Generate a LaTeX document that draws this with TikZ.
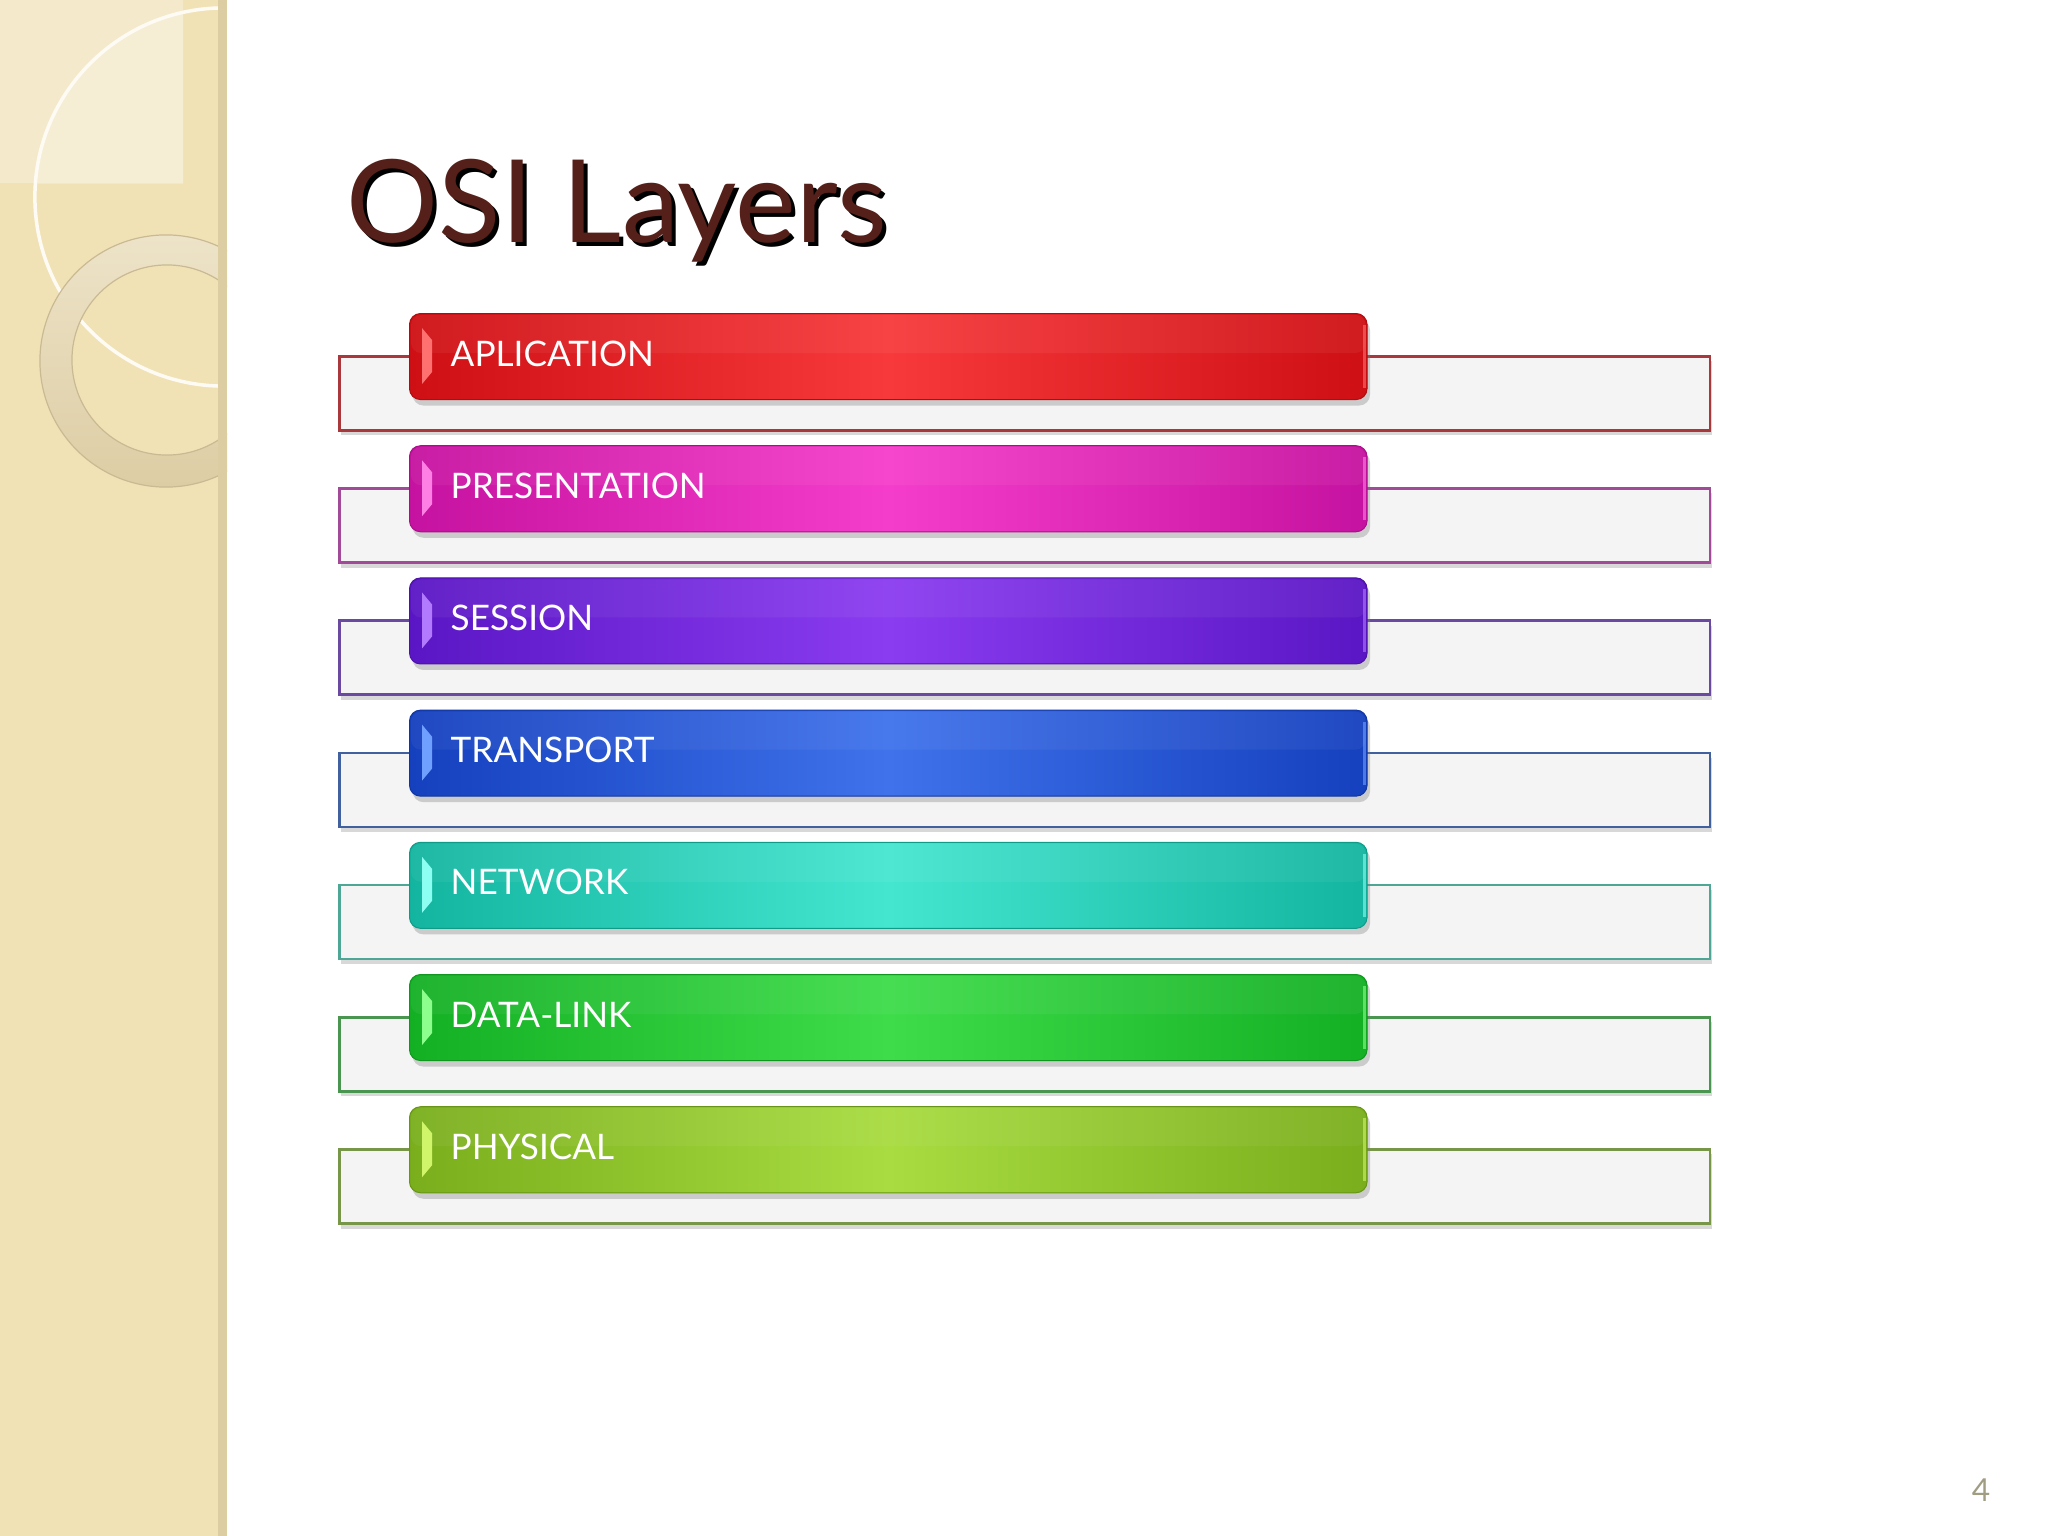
\documentclass[tikz,border=0pt]{standalone}
\usepackage{fontspec}
\setmainfont{Lato}
\usetikzlibrary{shadows}
\definecolor{panelbg}{HTML}{F1E2B6}
\definecolor{panellight}{HTML}{F4E9CB}
\definecolor{panelstripe}{HTML}{DCCDA2}
\definecolor{ringcol}{HTML}{EDE3C8}
\definecolor{ringdark}{HTML}{DDCDA4}
\definecolor{ringedge}{HTML}{C9BA94}
\definecolor{titlebrown}{HTML}{55201A}
\definecolor{pagecol}{HTML}{A19D82}
\definecolor{boxfill}{HTML}{F4F4F4}
% row colours: dark / light / border / highlight
\definecolor{dk0}{HTML}{CE0F14}\definecolor{lt0}{HTML}{F8393B}\definecolor{bd0}{HTML}{A8383C}\definecolor{hl0}{HTML}{FF7070}
\definecolor{dk1}{HTML}{C612A0}\definecolor{lt1}{HTML}{F53DCB}\definecolor{bd1}{HTML}{A04A98}\definecolor{hl1}{HTML}{FF80E4}
\definecolor{dk2}{HTML}{5A16C4}\definecolor{lt2}{HTML}{8A3CF0}\definecolor{bd2}{HTML}{6A4AA0}\definecolor{hl2}{HTML}{B27AFF}
\definecolor{dk3}{HTML}{1540BE}\definecolor{lt3}{HTML}{3F72EB}\definecolor{bd3}{HTML}{40609E}\definecolor{hl3}{HTML}{70A0FF}
\definecolor{dk4}{HTML}{13B5A0}\definecolor{lt4}{HTML}{44E6D0}\definecolor{bd4}{HTML}{4EA694}\definecolor{hl4}{HTML}{8CFFF2}
\definecolor{dk5}{HTML}{14B024}\definecolor{lt5}{HTML}{3EDC4A}\definecolor{bd5}{HTML}{4A9650}\definecolor{hl5}{HTML}{8CFF8C}
\definecolor{dk6}{HTML}{7AAE1C}\definecolor{lt6}{HTML}{A8DC40}\definecolor{bd6}{HTML}{789648}\definecolor{hl6}{HTML}{D0F56A}
\tikzset{
  backbox/.style={rectangle, fill=boxfill, line width=0.025cm, minimum width=13.70cm, minimum height=0.74cm, inner sep=0pt, anchor=north west,
    drop shadow={opacity=0.3, shadow xshift=0.02cm, shadow yshift=-0.05cm}},
  layerbar/.style={rectangle, rounded corners=0.11cm, minimum width=9.57cm, minimum height=0.86cm, inner sep=0pt, anchor=north west,
    drop shadow={opacity=0.35, shadow xshift=0.03cm, shadow yshift=-0.06cm}},
  layertext/.style={anchor=base west, inner sep=0pt, text=white, font=\fontsize{10}{12}\selectfont},
  pagenum/.style={text=pagecol, font=\fontsize{9}{11}\selectfont, inner sep=0pt},
  titletext/.style={anchor=base west, inner sep=0pt, font=\fontsize{32.7}{40}\selectfont}
}
\begin{document}
\begin{tikzpicture}[x=0.01cm,y=-0.01cm]
\useasboundingbox (0,0) rectangle (2048,1536);
\fill[white] (0,0) rectangle (2048,1536);
% left decorative panel
\fill[panelbg] (0,0) rectangle (227,1536);
\begin{scope}
  \clip (0,0) rectangle (227,1536);
  \fill[panellight] (0,0) rectangle (183,183);
  \begin{scope}
    \clip (0,0) rectangle (183,183);
    \fill[white, opacity=0.2] (224,197) circle (1.89cm);
  \end{scope}
  \draw[white!85!panelbg, line width=0.035cm] (224,197) circle (1.89cm);
  \path[even odd rule, top color=ringcol, bottom color=ringdark, draw=ringedge, line width=0.012cm] (166,361) circle (1.26cm) (167,360) circle (0.95cm);
\end{scope}
\fill[panelstripe] (218,0) rectangle (227,1536);
% title
\node[titletext, text=black] (titleshadow) at (350,246) {OSI Layers};
\node[titletext, text=titlebrown] (title) at (346,242) {OSI Layers};
% layers
\foreach \i/\lab in {0/APLICATION,1/PRESENTATION,2/SESSION,3/TRANSPORT,4/NETWORK,5/DATA-LINK,6/PHYSICAL}{
  \pgfmathsetmacro\yt{313+132.2*\i}
  \pgfmathsetmacro\yb{355+132.2*\i}
  \node[backbox, draw=bd\i] (back\i) at (338,\yb) {};
  \node[layerbar, draw=dk\i!85!black, line width=0.01cm, left color=dk\i, right color=dk\i, middle color=lt\i] (bar\i) at (409,\yt) {};
  \fill[white, opacity=0.05, rounded corners=0.1cm] ([xshift=0.02cm,yshift=-0.02cm]bar\i.north west) rectangle ([xshift=-0.02cm,yshift=-0.40cm]bar\i.north east);
  \fill[hl\i] ([xshift=0.13cm,yshift=-0.15cm]bar\i.north west) -- ([xshift=0.23cm,yshift=-0.27cm]bar\i.north west)
     -- ([xshift=0.23cm,yshift=0.28cm]bar\i.south west) -- ([xshift=0.13cm,yshift=0.16cm]bar\i.south west) -- cycle;
  \fill[hl\i, opacity=0.6] ([xshift=-0.05cm,yshift=-0.12cm]bar\i.north east) rectangle ([xshift=-0.02cm,yshift=0.12cm]bar\i.south east);
  \node[layertext] (txt\i) at (450,\yt+53) {\lab};
}
% page number
\node[pagenum] (pg) at (1981,1490) {4};
\end{tikzpicture}
\end{document}
